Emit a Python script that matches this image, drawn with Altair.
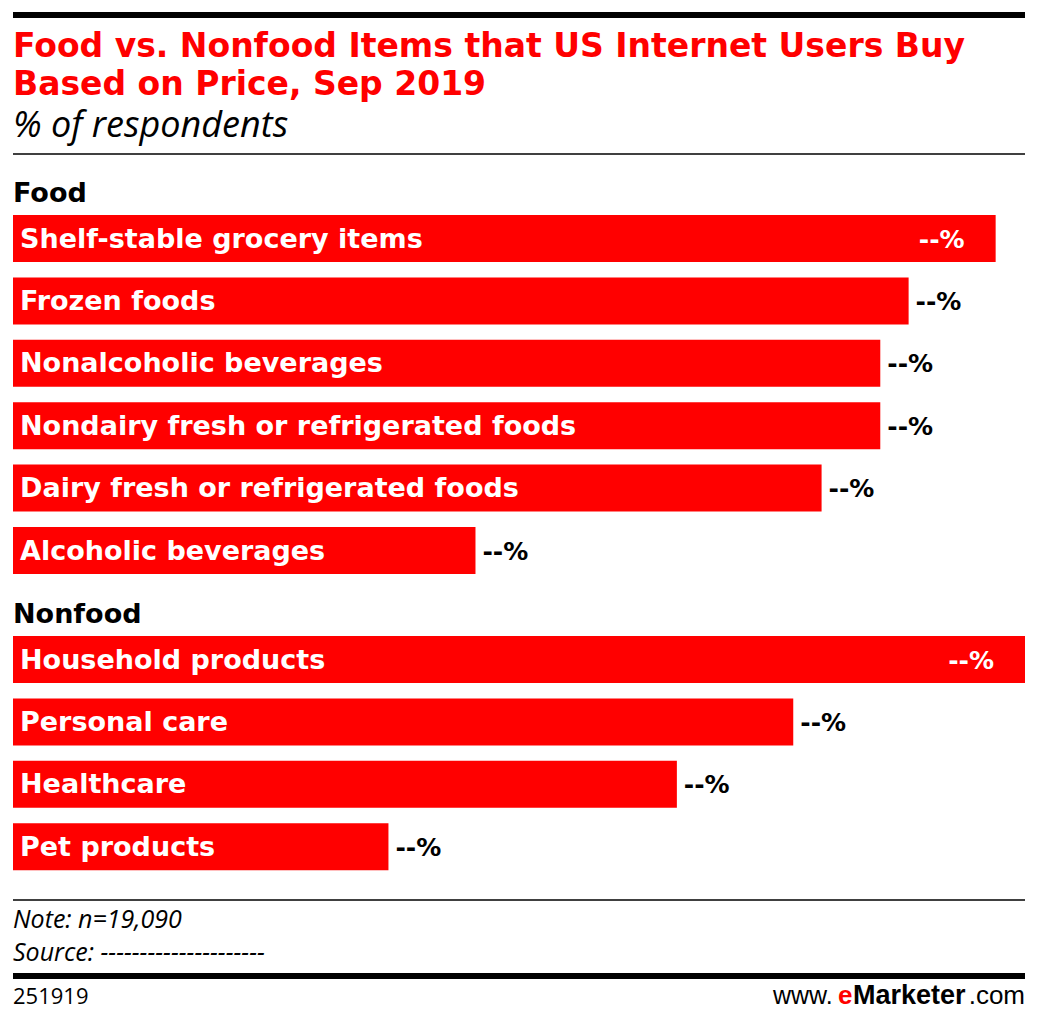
import altair as alt
import pandas as pd

# ---- data ----
food_items = ["Shelf-stable grocery items", "Frozen foods", "Nonalcoholic beverages",
              "Nondairy fresh or refrigerated foods", "Dairy fresh or refrigerated foods",
              "Alcoholic beverages"]
food_values = [97.1, 88.5, 85.7, 85.7, 79.9, 45.7]
food_labels = ["--%", "--%", "--%", "--%", "--%", "--%"]

nonfood_items = ["Household products", "Personal care", "Healthcare", "Pet products"]
nonfood_values = [100.0, 77.1, 65.6, 37.1]
nonfood_labels = ["--%", "--%", "--%", "--%"]

title_lines = ["Food vs. Nonfood Items that US Internet Users Buy", "Based on Price, Sep 2019"]
subtitle = "% of respondents"
group_names = ["Food", "Nonfood"]
note = "Note: n=19,090"
source = "Source: ---------------------"
chart_id = "251919"

RED = "#ff0000"
BOLD = "DejaVu Sans"
LIGHT = "Open Sans"

W, H = 1022, 1008
X0, X1 = 5, 1017

xscale = alt.Scale(domain=[0, 100], range=[X0, X1])


def group_chart(items, values, labels, yrange):
    df = pd.DataFrame({"item": items, "value": values, "label": labels})
    y = alt.Y("item:N", sort=items, axis=None,
              scale=alt.Scale(range=yrange, paddingInner=0.247, paddingOuter=0.1235))
    base = alt.Chart(df)
    bars = base.mark_bar(color=RED).encode(
        x=alt.X("value:Q", scale=xscale, axis=None), y=y)
    names = base.mark_text(align="left", baseline="middle", font=BOLD, fontWeight="bold",
                           fontSize=27, color="white", dy=1).encode(
        x=alt.value(12), y=y, text="item:N")
    outside = base.transform_filter("datum.value < 95").mark_text(
        align="left", baseline="middle", font=BOLD, fontWeight="bold", fontSize=25,
        color="black", dx=7, dy=1).encode(
        x=alt.X("value:Q", scale=xscale, axis=None), y=y, text="label:N")
    inside = base.transform_filter("datum.value >= 95").mark_text(
        align="right", baseline="middle", font=BOLD, fontWeight="bold", fontSize=25,
        color="white", dx=-31, dy=1).encode(
        x=alt.X("value:Q", scale=xscale, axis=None), y=y, text="label:N")
    return alt.layer(bars, names, outside, inside)


food = group_chart(food_items, food_values, food_labels, [199.3, 573.7])
nonfood = group_chart(nonfood_items, nonfood_values, nonfood_labels, [620.3, 869.9])

anchor = pd.DataFrame({"k": [0]})


def rule(y, w):
    return alt.Chart(anchor).mark_rule(color="black", strokeWidth=w).encode(
        x=alt.value(X0), x2=alt.value(X1), y=alt.value(y))


def text(t, x, y, size, font, weight="normal", style="normal", color="black", align="left"):
    return alt.Chart(anchor).mark_text(
        text=t, align=align, baseline="alphabetic", font=font, fontSize=size,
        fontWeight=weight, fontStyle=style, color=color).encode(
        x=alt.value(x), y=alt.value(y))


deco = [
    rule(7, 6),
    text(title_lines[0], X0, 49, 33, BOLD, "bold", color=RED),
    text(title_lines[1], X0, 87, 33, BOLD, "bold", color=RED),
    text(subtitle, X0, 129, 36, LIGHT, "normal", "italic"),
    rule(146, 1.5),
    text(group_names[0], X0, 194, 27, BOLD, "bold"),
    text(group_names[1], X0, 615, 27, BOLD, "bold"),
    rule(892, 1.5),
    text(note, X0, 920, 25, LIGHT, "normal", "italic"),
    text(source, X0, 953, 25, LIGHT, "normal", "italic"),
    rule(968, 6),
    text(chart_id, X0, 996, 22, LIGHT),
    text("www.", 765, 996, 25, "Liberation Sans"),
    text("e", 830, 996, 26, "Liberation Sans", "bold", color=RED),
    text("Marketer", 845, 996, 27, "Liberation Sans", "bold"),
    text(".com", X1, 996, 26, "Liberation Sans", align="right"),
]

chart = alt.layer(food, nonfood, *deco).resolve_scale(y="independent").properties(
    width=W, height=H, autosize=alt.AutoSizeParams(type="none"), padding=0
).configure_view(stroke=None)

chart.save("out.html", embed_options={"renderer": "svg", "actions": False})
